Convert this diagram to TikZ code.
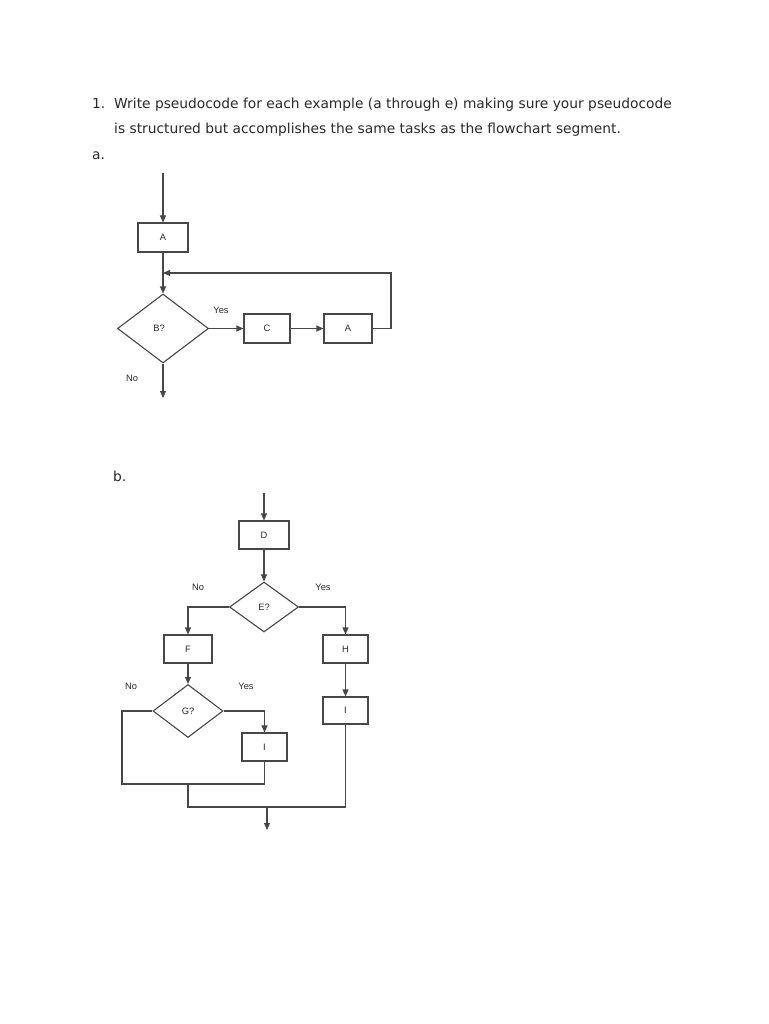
\documentclass[tikz,border=0pt]{standalone}
\usepackage{fontspec}
\setmainfont{DejaVu Sans}
\newfontfamily\lblfont{Liberation Sans}
\usetikzlibrary{arrows.meta,shapes.geometric}
\definecolor{ln}{HTML}{474747}
\definecolor{tx}{HTML}{2A2A2A}
\tikzset{
  pix/.style={x=1pt,y=-1pt},
  box/.style={draw=ln,line width=1.1pt,rectangle,inner sep=0pt,font=\lblfont\fontsize{9.3}{11}\selectfont,text=tx},
  dia/.style={draw=ln,line width=1.1pt,diamond,inner sep=0pt,font=\lblfont\fontsize{9.3}{11}\selectfont,text=tx},
  lbl/.style={font=\lblfont\fontsize{9.3}{11}\selectfont,text=tx,inner sep=0pt},
  hdr/.style={font=\fontsize{13.8}{16}\selectfont,text=tx,inner sep=0pt,anchor=base west},
  con/.style={draw=ln,line width=1.1pt},
  arr/.style={con,-{Triangle[length=7pt,width=6pt]}}
}
\begin{document}
\begin{tikzpicture}[pix]
\useasboundingbox (0,0) rectangle (768,1024);
\fill[white] (0,0) rectangle (768,1024);
% header
\node[hdr] (n1) at (92,109) {1.};
\node[hdr] (l1) at (114,109) {Write pseudocode for each example (a through e) making sure your pseudocode};
\node[hdr] (l2) at (114,134) {is structured but accomplishes the same tasks as the flowchart segment.};
\node[hdr] (la) at (92,160) {a.};
\node[hdr] (lb) at (113,481) {b.};
% diagram a
\coordinate (a0) at (163,173);
\node[box,minimum width=50pt,minimum height=29pt] (A1) at (163,237.5) {A};
\node[dia,minimum width=91pt,minimum height=69pt] (B) at (163,328.5) {\hspace*{-8pt}B?};
\node[box,minimum width=46pt,minimum height=29pt] (C) at (267,328.5) {C};
\node[box,minimum width=48pt,minimum height=29pt] (A2) at (348,328.5) {A};
\coordinate (a1) at (391,328.5);
\coordinate (a2) at (391,273);
\coordinate (a3) at (163,273);
\coordinate (aout) at (163,398);
\node[lbl] (yA) at (221,310) {Yes};
\node[lbl] (nA) at (132,378) {No};
\draw[arr] (a0) -- (A1.north);
\draw[arr] (A1.south) -- (B.north);
\draw[arr] (B.east) -- (C.west);
\draw[arr] (C.east) -- (A2.west);
\draw[arr] (A2.east) -- (a1) -- (a2) -- (a3);
\draw[arr] (B.south) -- (aout);
% diagram b
\coordinate (b0) at (264,493);
\node[box,minimum width=50pt,minimum height=28pt] (D) at (264,535) {D};
\node[dia,minimum width=69pt,minimum height=50pt] (E) at (264,607) {E?};
\node[box,minimum width=48pt,minimum height=28pt] (F) at (188,649) {F};
\node[box,minimum width=45pt,minimum height=28pt] (H) at (345.5,649) {H};
\node[box,minimum width=45pt,minimum height=27pt] (I2) at (345.5,710.5) {I};
\node[dia,minimum width=70pt,minimum height=53pt] (G) at (188,711) {G?};
\node[box,minimum width=45pt,minimum height=28pt] (I1) at (264.5,747) {I};
\node[lbl] (nE) at (198,587) {No};
\node[lbl] (yE) at (323,587) {Yes};
\node[lbl] (nG) at (131,686) {No};
\node[lbl] (yG) at (246,686) {Yes};
\coordinate (gl) at (122,784);
\coordinate (m1) at (188,784);
\coordinate (m2) at (188,807);
\coordinate (bj) at (267,807);
\coordinate (bout) at (267,830);
\draw[arr] (b0) -- (D.north);
\draw[arr] (D.south) -- (E.north);
\draw[arr] (E.west) -| (F.north);
\draw[arr] (E.east) -| (H.north);
\draw[arr] (H.south) -- (I2.north);
\draw[arr] (F.south) -- (G.north);
\draw[arr] (G.east) -| (I1.north);
\draw[con] (G.west) -| (gl) -| (I1.south);
\draw[con] (m1) -- (m2) -| (I2.south);
\draw[arr] (bj) -- (bout);
\end{tikzpicture}
\end{document}
